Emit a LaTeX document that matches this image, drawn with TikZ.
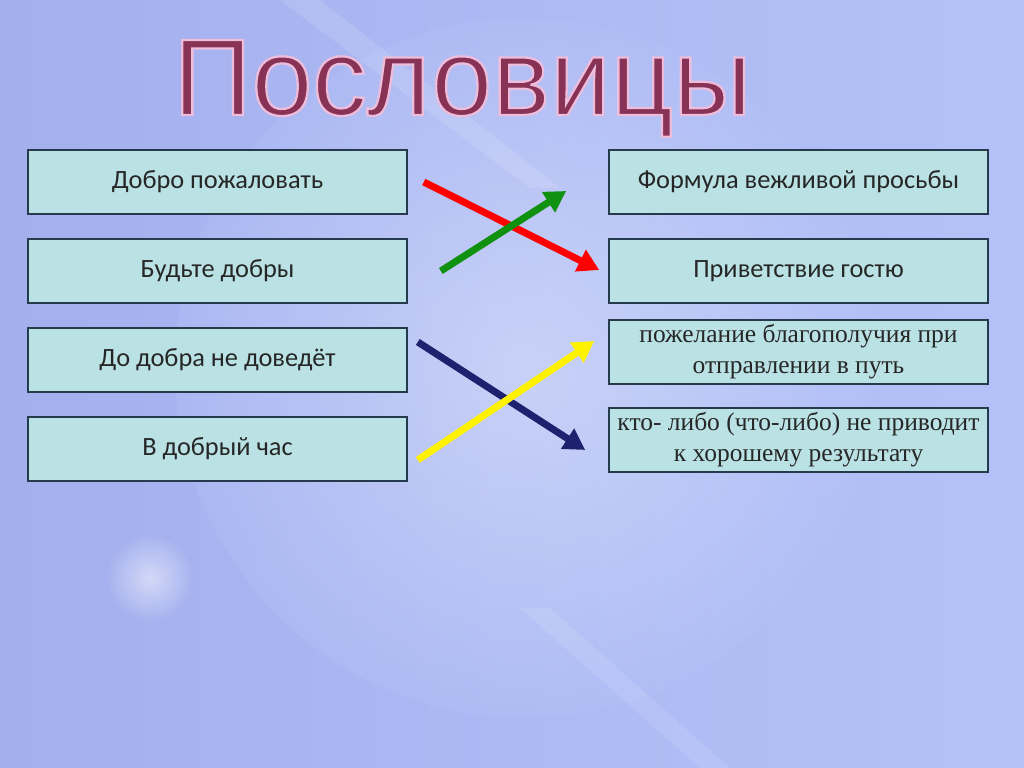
\documentclass[tikz,border=0pt]{standalone}
\usepackage{fontspec}
\setmainfont{Carlito}
\newfontfamily\serifru{Liberation Serif}
\newfontfamily\titlefont{Liberation Sans}
\usetikzlibrary{arrows.meta,positioning}
\definecolor{bgleft}{RGB}{164,176,238}
\definecolor{bgright}{RGB}{180,194,248}
\definecolor{boxfill}{RGB}{186,226,228}
\definecolor{boxline}{RGB}{38,58,78}
\definecolor{titlered}{RGB}{136,50,86}
\definecolor{navyarrow}{RGB}{30,34,110}
\definecolor{greenarrow}{RGB}{16,145,16}
% outlined letters for the heading
\newcommand\rimtext[1]{\special{pdf:literal direct 0.93 0.74 0.86 RG 1.3 w 2 Tr}#1\special{pdf:literal direct 0 Tr}}
\begin{document}
\begin{tikzpicture}[
    card/.style={draw=boxline, line width=0.9pt, fill=boxfill,
      minimum width=7.58cm, minimum height=1.28cm, inner sep=2pt,
      align=center, text=black!85, font=\fontsize{15}{18}\selectfont},
    oldcard/.style={card, font=\serifru\fontsize{14.5}{17.6}\selectfont},
    link/.style={line width=0.14cm, -{Triangle[length=0.42cm,width=0.46cm]}},
    headline/.style={anchor=base, font=\titlefont\fontsize{62}{62}\selectfont}
  ]
  % background
  \useasboundingbox (0,0) rectangle (20.48,15.36);
  \shade[left color=bgleft, right color=bgright] (0,0) rectangle (20.48,15.36);
  \shade[inner color=white, outer color=bgright, opacity=0.35] (10.5,8) circle (7);
  \fill[white, opacity=0.12] (5.6,15.36) -- (6.4,15.36) -- (11.2,11.6) -- (10.6,11.6) -- cycle;
  \fill[white, opacity=0.10] (10.4,3.2) -- (11.0,3.2) -- (14.6,0) -- (14.0,0) -- cycle;
  \shade[inner color=white, outer color=bgleft, opacity=0.5] (3,3.8) circle (0.9);

  % proverbs
  \node[card] (l1) at (4.35,11.72) {Добро пожаловать};
  \node[card] (l2) at (4.35,9.94) {Будьте добры};
  \node[card] (l3) at (4.35,8.16) {До добра не доведёт};
  \node[card] (l4) at (4.35,6.38) {В добрый час};

  % meanings
  \node[card] (r1) at (15.97,11.72) {Формула вежливой просьбы};
  \node[card] (r2) at (15.97,9.94) {Приветствие гостю};
  \node[oldcard] (r3) at (15.97,8.32) {пожелание благополучия при\\отправлении в путь};
  \node[oldcard] (r4) at (15.97,6.56) {кто- либо (что-либо) не приводит\\к хорошему результату};

  % arrow ends
  \coordinate (a1) at ([xshift=0.32cm]l1.east);
  \coordinate (b1) at ([xshift=-0.18cm,yshift=0.02cm]r2.west);
  \coordinate (a2) at ([xshift=0.66cm]l2.east);
  \coordinate (b2) at ([xshift=-0.84cm,yshift=-0.18cm]r1.west);
  \coordinate (a3) at ([xshift=0.2cm,yshift=0.36cm]l3.east);
  \coordinate (b3) at ([xshift=-0.46cm,yshift=-0.2cm]r4.west);
  \coordinate (a4) at ([xshift=0.2cm,yshift=-0.22cm]l4.east);
  \coordinate (b4) at ([xshift=-0.28cm,yshift=0.22cm]r3.west);

  \draw[link, red] (a1) -- (b1);
  \draw[link, greenarrow] (a2) -- (b2);
  \draw[link, navyarrow] (a3) -- (b3);
  \draw[link, yellow] (a4) -- (b4);

  % title
  \node[headline, text=titlered] (title) at (9.25,13.06) {\rimtext{Пословицы}};
\end{tikzpicture}
\end{document}
